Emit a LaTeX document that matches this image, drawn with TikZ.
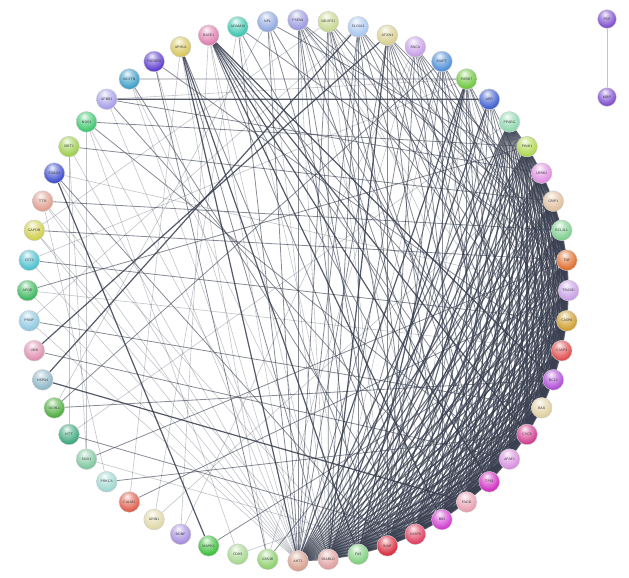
\documentclass[tikz,border=0pt]{standalone}
\usetikzlibrary{backgrounds}
\definecolor{c0}{HTML}{9B9BE0}\definecolor{c1}{HTML}{C8D890}\definecolor{c2}{HTML}{A8C8F0}
\definecolor{c3}{HTML}{D8D090}\definecolor{c4}{HTML}{C8A0E8}\definecolor{c5}{HTML}{5090D8}
\definecolor{c6}{HTML}{70C840}\definecolor{c7}{HTML}{4060D0}\definecolor{c8}{HTML}{90D8B0}
\definecolor{c9}{HTML}{B0D850}\definecolor{c10}{HTML}{E090E0}\definecolor{c11}{HTML}{E0C0A0}
\definecolor{c12}{HTML}{80D090}\definecolor{c13}{HTML}{E07030}\definecolor{c14}{HTML}{C8A0E8}
\definecolor{c15}{HTML}{D0A030}\definecolor{c16}{HTML}{E05050}\definecolor{c17}{HTML}{B050D8}
\definecolor{c18}{HTML}{E0D0A0}\definecolor{c19}{HTML}{D04090}\definecolor{c20}{HTML}{D890E0}
\definecolor{c21}{HTML}{D030C0}\definecolor{c22}{HTML}{E8A0B0}\definecolor{c23}{HTML}{D040D0}
\definecolor{c24}{HTML}{E04060}\definecolor{c25}{HTML}{D83040}\definecolor{c26}{HTML}{80D080}
\definecolor{c27}{HTML}{E0A0A0}\definecolor{c28}{HTML}{D8A090}\definecolor{c29}{HTML}{90D070}
\definecolor{c30}{HTML}{A8D890}\definecolor{c31}{HTML}{40C040}\definecolor{c32}{HTML}{A890E0}
\definecolor{c33}{HTML}{E0D8A8}\definecolor{c34}{HTML}{E06050}\definecolor{c35}{HTML}{A0D8D0}
\definecolor{c36}{HTML}{80C8A0}\definecolor{c37}{HTML}{40A880}\definecolor{c38}{HTML}{50B040}
\definecolor{c39}{HTML}{90B8C8}\definecolor{c40}{HTML}{E090B0}\definecolor{c41}{HTML}{90C8E0}
\definecolor{c42}{HTML}{40B860}\definecolor{c43}{HTML}{50C0D0}\definecolor{c44}{HTML}{D0D050}
\definecolor{c45}{HTML}{E0A090}\definecolor{c46}{HTML}{4050D0}\definecolor{c47}{HTML}{A0D050}
\definecolor{c48}{HTML}{40C870}\definecolor{c49}{HTML}{A8A0E8}\definecolor{c50}{HTML}{40A0C8}
\definecolor{c51}{HTML}{6040D0}\definecolor{c52}{HTML}{D8C860}\definecolor{c53}{HTML}{E080B0}
\definecolor{c54}{HTML}{40C8B0}\definecolor{c55}{HTML}{90A8E0}\definecolor{ciso}{HTML}{8050D0}
\definecolor{edgec}{RGB}{55,61,78}
\makeatletter
\pgfdeclareradialshading[tikz@ball]{glossy}{\pgfqpoint{-6bp}{14bp}}{%
  color(0bp)=(tikz@ball!8!white); color(12bp)=(tikz@ball!55!white);
  color(28bp)=(tikz@ball); color(42bp)=(tikz@ball!88!black); color(60bp)=(tikz@ball!70!black)}
\makeatother
\tikzset{
  ball/.style={circle, minimum size=15.5pt, inner sep=0pt, draw=black!20,
    line width=0.3pt, font=\sffamily\fontsize{2.6}{3}\selectfont, text=black!80},
  sph/.style={ball color=#1, shading=glossy},
  ed/.style={draw=edgec, line width=0.6pt, opacity=0.6},
  es/.style={draw=edgec, line width=0.9pt, opacity=0.85},
  ew/.style={draw=edgec, line width=0.45pt, opacity=0.3},
  cl/.style={draw=edgec, line width=0.85pt, opacity=0.75},
  iso/.style={draw=edgec, line width=0.5pt, opacity=0.3}
}
\begin{document}
\begin{tikzpicture}[x=0.75pt,y=-0.75pt]
\useasboundingbox (0,0) rectangle (629,578);
\begin{scope}[shift={(298,290.5)}]
\foreach \i/\t in {0/PSEN1,1/NDUFS1,2/SLC6A3,3/ATXN3,4/SNCA,5/MAPT,6/PARK7,7/APP,
  8/PPARG,9/PINK1,10/LRRK2,11/GRIP1,12/BCL2L1,13/TNF,14/TRADD,15/CASP8,16/CASP3,
  17/BCL2,18/BAX,19/CYCS,20/APAF1,21/TP53,22/FADD,23/BID,24/CASP9,25/XIAP,26/FAS,
  27/DIABLO,28/AKT1,29/GSK3B,30/CDK5,31/MAPK1,32/BDNF,33/GRIN1,34/CALM1,35/PRKCA,
  36/SOD1,37/HTT,38/UCHL1,39/HSPA4,40/UBB,41/PRNP,42/APOE,43/CST3,44/GAPDH,45/TTR,
  46/FOXO3,47/SIRT1,48/NOS3,49/APBB1,50/NCSTN,51/PSENEN,52/APH1A,53/BACE1,54/ADAM10,55/NPL}{
  \node[ball, sph=c\i] (n\i) at (-90+\i*6.428571:270.5) {\t};
}
\end{scope}
\node[ball, sph=ciso, minimum size=14pt] (pa) at (607,19) {PSP};
\node[ball, sph=ciso, minimum size=14pt] (pb) at (607,97) {MBP};
\begin{pgfonlayer}{background}
\draw[iso] (pa) -- (pb);
% dense right cluster
\foreach \i in {8,...,27}{
  \pgfmathtruncatemacro\s{\i+1}
  \foreach \j in {\s,...,28}{ \draw[cl] (n\i) -- (n\j); }
}
\foreach \a/\b in {49/7,46/31,3/40,2/39,39/22,53/17,53/19,53/21,53/23,52/26,52/28,6/26,6/28,3/27,7/27}
  {\draw[es] (n\a) -- (n\b);}
\foreach \a/\b in {0/14,0/20,0/26,1/16,1/22,2/13,2/18,2/24,3/11,3/21,3/28,4/12,4/20,4/25,
  5/14,5/23,5/38,6/16,6/21,7/17,7/22,55/10,55/19,55/24,54/13,54/21,53/18,53/20,53/22,53/24,
  52/25,52/27,51/16,51/29,50/6,50/24,49/10,49/22,48/9,48/20,47/11,46/25,45/12,44/13,43/15,
  42/9,41/18,40/20,38/17,37/24,36/13,35/19,34/14,31/15,29/11,0/28,55/28,54/28,1/28,2/27,
  4/14,4/16,4/18,4/22,4/27,5/16,5/19,5/21,5/25,5/28,6/13,6/15,6/20,6/22,6/25,6/27,
  7/13,7/15,7/19,7/24,7/26,1/13,1/21,1/24,1/27,0/12,0/16,0/22,0/25,2/15,2/21,2/26,2/28,
  3/13,3/17,3/19,3/23,3/25}
  {\draw[ed] (n\a) -- (n\b);}
\foreach \a/\b in {0/17,0/23,1/19,1/25,1/44,2/41,3/15,4/29,5/27,6/18,6/24,6/49,51/28,50/28,
  49/28,48/27,48/30,47/28,47/36,46/14,45/26,45/35,44/27,43/28,43/6,42/16,42/28,41/28,38/55,
  37/47,36/48,37/8,36/25,34/52,33/10,33/54,32/4,32/53,30/20,44/28,45/28,46/28,53/28,52/29,
  27/0,27/55,27/53,26/54,26/50}
  {\draw[ew] (n\a) -- (n\b);}
\end{pgfonlayer}
\end{tikzpicture}
\end{document}
